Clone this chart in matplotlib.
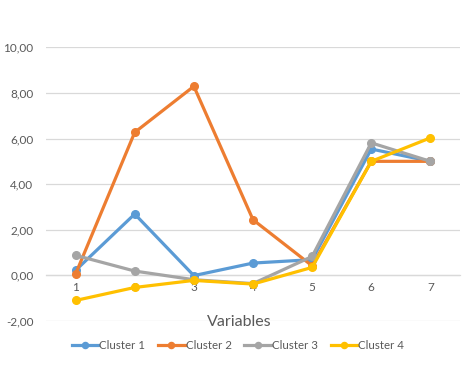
import matplotlib
matplotlib.use("Agg")
import matplotlib.pyplot as plt
from matplotlib.ticker import FuncFormatter

variables = [1, 2, 3, 4, 5, 6, 7]
cluster1 = [0.22, 2.69, -0.01, 0.54, 0.69, 5.54, 5.00]
cluster2 = [0.06, 6.27, 8.29, 2.44, 0.42, 5.00, 5.00]
cluster3 = [0.88, 0.19, -0.19, -0.36, 0.83, 5.81, 5.00]
cluster4 = [-1.10, -0.53, -0.22, -0.38, 0.35, 5.00, 6.03]
series_names = ["Cluster 1", "Cluster 2", "Cluster 3", "Cluster 4"]
colors = ["#5B9BD5", "#ED7D31", "#A5A5A5", "#FFC000"]

plt.rcParams["font.family"] = ["Lato", "DejaVu Sans"]
text_col = "#595959"
grid_col = "#D9D9D9"

fig = plt.figure(figsize=(4.74, 3.65), dpi=100)
ax = fig.add_axes([46 / 474, 1 - 321 / 365, 414 / 474, (321 - 47.3) / 365])

for vals, name, c in zip([cluster1, cluster2, cluster3, cluster4], series_names, colors):
    ax.plot(variables, vals, color=c, lw=2.3, marker="o", ms=5.5,
            label=name, solid_joinstyle="round", zorder=3)

ax.set_xlim(0.5, 7.5)
ax.set_ylim(-2, 10)
ax.set_yticks([-2, 0, 2, 4, 6, 8, 10])
ax.yaxis.set_major_formatter(FuncFormatter(lambda v, p: f"{v:.2f}".replace(".", ",")))
ax.grid(axis="y", color=grid_col, lw=0.9, zorder=0)
ax.set_axisbelow(True)

for s in ["top", "right", "left"]:
    ax.spines[s].set_visible(False)
ax.spines["bottom"].set_position(("data", 0))
ax.spines["bottom"].set_color(grid_col)
ax.spines["bottom"].set_linewidth(0.9)

ax.set_xticks(variables)
ax.tick_params(axis="x", length=0, pad=5, labelsize=8.5, labelcolor=text_col)
ax.tick_params(axis="y", length=0, pad=9, labelsize=8.5, labelcolor=text_col)

fig.text(239 / 474, 1 - 321.7 / 365, "Variables", ha="center", va="center",
         fontsize=11.5, color=text_col)

fig.legend(loc="center", bbox_to_anchor=(238 / 474, 1 - 345.7 / 365), ncol=4,
           frameon=False, fontsize=8.3, handlelength=2.3, handletextpad=0.1,
           columnspacing=1.1, labelcolor=text_col, markerscale=0.8)

fig.savefig("out.png", dpi=100, facecolor="white")
